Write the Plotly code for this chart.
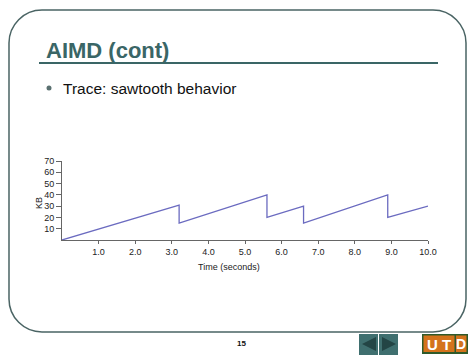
import plotly.graph_objects as go

# ---- data ----
time_s = [0.0, 3.2, 3.2, 5.6, 5.6, 6.6, 6.6, 8.9, 8.9, 10.0]
window_kb = [0, 31, 15, 40, 20, 30, 15, 40, 20, 30]
x_ticks = [1, 2, 3, 4, 5, 6, 7, 8, 9, 10]
x_tick_labels = ["1.0", "2.0", "3.0", "4.0", "5.0", "6.0", "7.0", "8.0", "9.0", "10.0"]
y_ticks = [10, 20, 30, 40, 50, 60, 70]

W, H = 474, 355
L, R, T, B = 62, 428, 161, 240  # plot area in pixels


def px(x):
    return (x - L) / (R - L)


def py(y):
    return (B - y) / (B - T)


def rounded_rect(x0, y0, x1, y1, r):
    k = 0.5523 * r
    pts = []
    pts.append(("M", [(x0 + r, y0)]))
    pts.append(("L", [(x1 - r, y0)]))
    pts.append(("C", [(x1 - r + k, y0), (x1, y0 + r - k), (x1, y0 + r)]))
    pts.append(("L", [(x1, y1 - r)]))
    pts.append(("C", [(x1, y1 - r + k), (x1 - r + k, y1), (x1 - r, y1)]))
    pts.append(("L", [(x0 + r, y1)]))
    pts.append(("C", [(x0 + r - k, y1), (x0, y1 - r + k), (x0, y1 - r)]))
    pts.append(("L", [(x0, y0 + r)]))
    pts.append(("C", [(x0, y0 + r - k), (x0 + r - k, y0), (x0 + r, y0)]))
    s = ""
    for cmd, ps in pts:
        s += cmd + " " + " ".join(f"{px(a):.5f},{py(b):.5f}" for a, b in ps) + " "
    return s + "Z"


fig = go.Figure()
fig.add_trace(go.Scatter(
    x=time_s, y=window_kb, mode="lines",
    line=dict(color="#6b6bc0", width=1.3),
    hoverinfo="skip", showlegend=False,
))

teal = "#3a6666"
border = "#4a6464"
shapes = [
    dict(type="path", xref="paper", yref="paper", path=rounded_rect(9, 10, 466, 332, 33),
         line=dict(color=border, width=1.5), layer="below"),
    dict(type="line", xref="paper", yref="paper", x0=px(39), x1=px(438), y0=py(63), y1=py(63),
         line=dict(color=teal, width=2)),
    dict(type="circle", xref="paper", yref="paper", x0=px(46.5), x1=px(51.5), y0=py(85.5), y1=py(90.5),
         fillcolor="#5a7070", line=dict(width=0)),
    # navigation buttons
    dict(type="rect", xref="paper", yref="paper", x0=px(359), x1=px(378), y0=py(334), y1=py(355),
         fillcolor="#3f6f6f", line=dict(width=0)),
    dict(type="rect", xref="paper", yref="paper", x0=px(379), x1=px(398), y0=py(334), y1=py(355),
         fillcolor="#3f6f6f", line=dict(width=0)),
    dict(type="path", xref="paper", yref="paper",
         path=f"M {px(362)},{py(344)} L {px(376)},{py(337)} L {px(376)},{py(351)} Z",
         fillcolor="#234545", line=dict(width=0)),
    dict(type="path", xref="paper", yref="paper",
         path=f"M {px(396)},{py(344)} L {px(382)},{py(337)} L {px(382)},{py(351)} Z",
         fillcolor="#234545", line=dict(width=0)),
    # UTD logo
    dict(type="rect", xref="paper", yref="paper", x0=px(422), x1=px(468), y0=py(334), y1=py(354),
         fillcolor="#2f5a2a", line=dict(width=0)),
    dict(type="rect", xref="paper", yref="paper", x0=px(423.5), x1=px(454.5), y0=py(335.5), y1=py(352),
         fillcolor="#d4731c", line=dict(width=0)),
    dict(type="rect", xref="paper", yref="paper", x0=px(456), x1=px(466.5), y0=py(335.5), y1=py(352),
         fillcolor="#d4731c", line=dict(width=0)),
]

F = "Arial, Liberation Sans, sans-serif"
annotations = [
    dict(text="<b>AIMD (cont)</b>", x=px(44), y=py(50), xref="paper", yref="paper",
         xanchor="left", yanchor="middle", showarrow=False,
         font=dict(family=F, size=22, color=teal)),
    dict(text="Trace: sawtooth behavior", x=px(61), y=py(88.5), xref="paper", yref="paper",
         xanchor="left", yanchor="middle", showarrow=False,
         font=dict(family=F, size=15.5, color="#111111")),
    dict(text="<b>15</b>", x=px(241), y=py(343), xref="paper", yref="paper",
         xanchor="center", yanchor="middle", showarrow=False,
         font=dict(family=F, size=8, color="#111111")),
    dict(text="<b>U</b>", x=px(432), y=py(344), xref="paper", yref="paper",
         xanchor="center", yanchor="middle", showarrow=False,
         font=dict(family=F, size=15, color="white")),
    dict(text="<b>T</b>", x=px(446), y=py(344), xref="paper", yref="paper",
         xanchor="center", yanchor="middle", showarrow=False,
         font=dict(family=F, size=15, color="white")),
    dict(text="<b>D</b>", x=px(461), y=py(344), xref="paper", yref="paper",
         xanchor="center", yanchor="middle", showarrow=False,
         font=dict(family=F, size=14, color="white")),
    dict(text="KB", x=px(39), y=py(203), xref="paper", yref="paper",
         xanchor="center", yanchor="middle", showarrow=False, textangle=-90,
         font=dict(family=F, size=9, color="#222222")),
    dict(text="Time (seconds)", x=px(229), y=py(267), xref="paper", yref="paper",
         xanchor="center", yanchor="middle", showarrow=False,
         font=dict(family=F, size=9, color="#222222")),
]

fig.update_layout(
    width=W, height=H,
    margin=dict(l=L, r=W - R, t=T, b=H - B),
    paper_bgcolor="white", plot_bgcolor="white",
    shapes=shapes, annotations=annotations,
    showlegend=False,
    xaxis=dict(range=[0, 10], tickvals=x_ticks, ticktext=x_tick_labels,
               showgrid=False, zeroline=False, showline=True, linecolor="#666666", linewidth=1,
               ticks="outside", ticklen=3, tickcolor="#666666",
               tickfont=dict(family=F, size=9, color="#222222"), fixedrange=True),
    yaxis=dict(range=[0, 70], tickvals=y_ticks,
               showgrid=False, zeroline=False, showline=True, linecolor="#666666", linewidth=1,
               ticks="outside", ticklen=5, tickcolor="#666666",
               tickfont=dict(family=F, size=9, color="#222222"), fixedrange=True),
)

fig.write_html("out.html", config={"displayModeBar": False})
